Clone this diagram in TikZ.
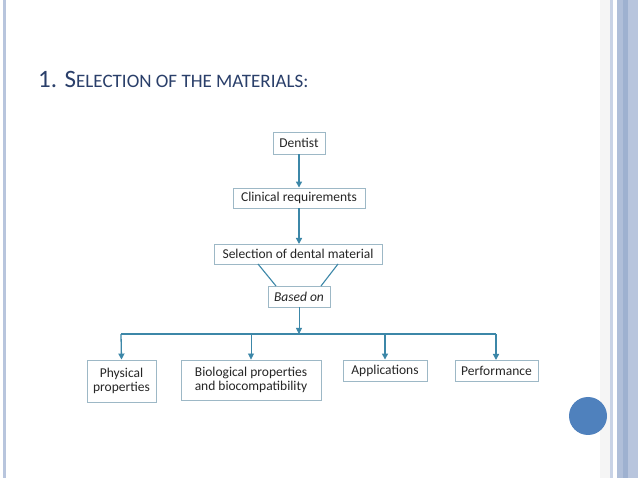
\documentclass[tikz,border=0pt]{standalone}
\usepackage{fontspec}
\setmainfont{Carlito}
\usetikzlibrary{arrows.meta}
\definecolor{ln}{HTML}{3C87A8}
\definecolor{bx}{HTML}{9DB8C6}
\definecolor{tt}{HTML}{2A3F6A}
\definecolor{sa}{RGB}{201,211,230}
\definecolor{sb}{RGB}{176,191,217}
\definecolor{sc}{RGB}{158,177,208}
\definecolor{sd}{RGB}{184,197,221}
\definecolor{dotc}{RGB}{79,129,189}
\begin{document}
\begin{tikzpicture}[x=1pt,y=-1pt,
 box/.style={draw=bx,line width=0.9pt,inner sep=0pt,align=center,font=\fontsize{13.5}{14}\selectfont,text=black!85},
 arr/.style={draw=ln,line width=1.3pt,-{Triangle[width=6pt,length=6pt]}}]
\useasboundingbox (0,0) rectangle (638,478);
\fill[white] (0,0) rectangle (638,478);
\fill[black!4!white] (600,0) rectangle (610,478);
\fill[sa] (610,0) rectangle (613,478);
\fill[sb] (617,0) rectangle (623,478);
\fill[sc] (623,0) rectangle (628,478);
\fill[sd] (628,0) rectangle (638,478);
\fill[sd] (3,0) rectangle (6,478);
\node[circle,fill=dotc,minimum size=38pt,inner sep=0pt] (dot) at (588,416) {};
\node[anchor=base west,text=tt,inner sep=0pt] (title) at (38,88)
 {\fontsize{25}{28}\selectfont 1. S\fontsize{19}{22}\selectfont ELECTION OF THE MATERIALS:};
\node[box,minimum width=52pt,minimum height=22pt] (den) at (299,143) {Dentist};
\node[box,minimum width=132pt,minimum height=20pt] (cli) at (299,198) {Clinical requirements};
\node[box,minimum width=168pt,minimum height=20pt] (sel) at (298,254) {Selection of dental material};
\node[box,minimum width=62pt,minimum height=21pt] (bas) at (299,296.5) {\itshape Based on};
\node[box,minimum width=69pt,minimum height=42pt] (phy) at (121.5,381) {Physical\\properties};
\node[box,minimum width=140pt,minimum height=40pt] (bio) at (251,380) {Biological properties\\and biocompatibility};
\node[box,minimum width=84pt,minimum height=21pt] (app) at (385,370.5) {Applications};
\node[box,minimum width=83pt,minimum height=21pt] (per) at (496.5,370.5) {Performance};
\coordinate (j) at (299,334);
\draw[arr] (den) -- (cli);
\draw[arr] (cli) -- (299,244);
\draw[ln,line width=1.1pt] (258,264) -- (276,286) (338,264) -- (321,286);
\draw[arr,line width=0.8pt] (bas) -- (j);
\draw[ln,line width=1.3pt] (121,334) -- (496,334);
\draw[arr] (121,334) -- (phy.north);
\draw[arr,line width=0.8pt] (251,334) -- (bio.north);
\draw[arr] (385,334) -- (app.north);
\draw[arr] (496,334) -- (496,360);
\end{tikzpicture}
\end{document}
